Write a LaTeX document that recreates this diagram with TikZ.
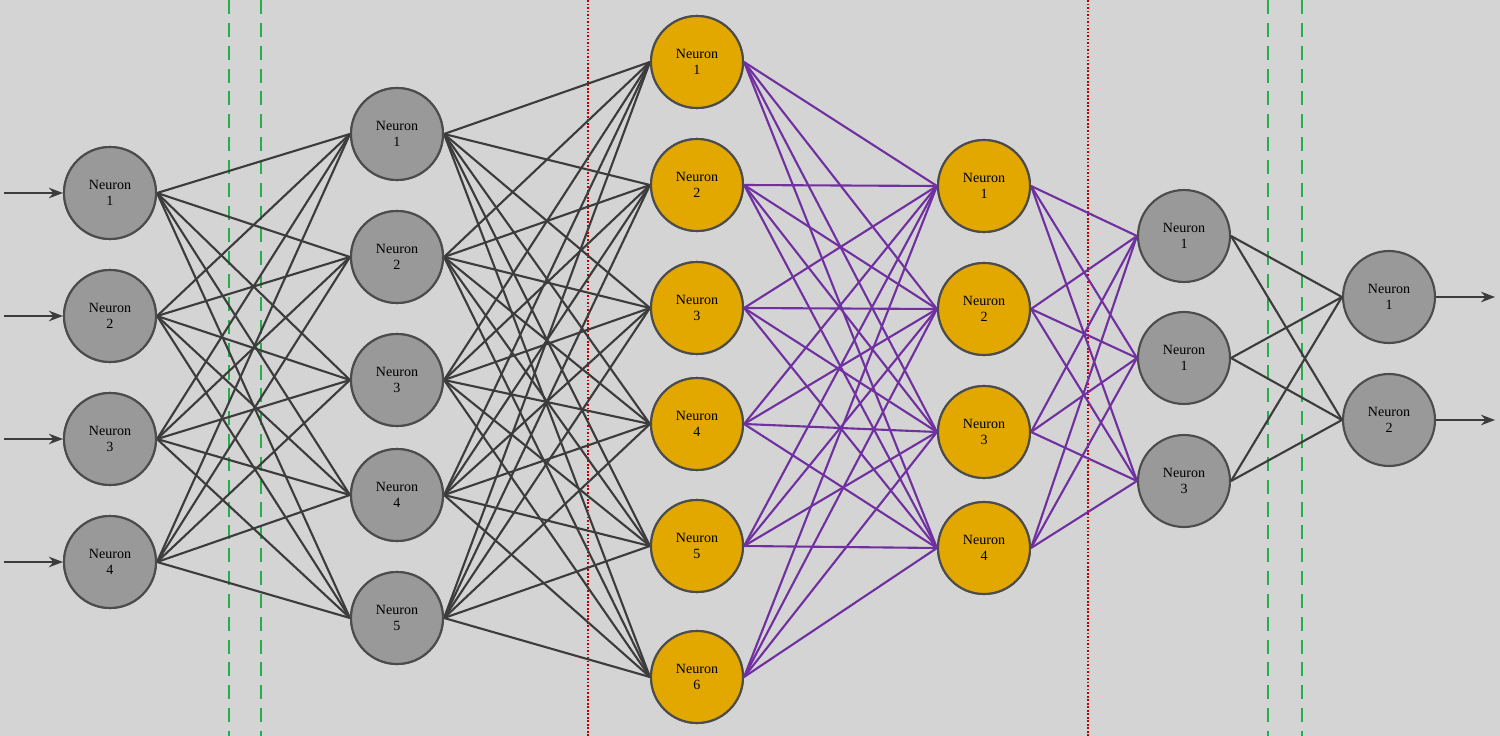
\documentclass[tikz,border=0pt]{standalone}
\usepackage{fontspec}
\setmainfont{Liberation Serif}
\usetikzlibrary{arrows.meta}
\definecolor{bgGray}{HTML}{D4D4D4}
\definecolor{nodeGray}{HTML}{999999}
\definecolor{nodeOrange}{HTML}{E2A800}
\definecolor{edgeDark}{HTML}{3C3C3C}
\definecolor{edgePurple}{HTML}{7030A0}
\definecolor{sepGreen}{HTML}{22B04B}
\definecolor{sepRed}{HTML}{C00000}
\tikzset{
  neuronGray/.style={circle, draw=black!70, line width=1.2pt, fill=nodeGray, minimum size=1.84cm, inner sep=0pt, align=center, font=\fontsize{8}{9}\selectfont},
  neuronOrange/.style={neuronGray, fill=nodeOrange},
  linkDark/.style={draw=edgeDark, line width=1.2pt},
  linkPurple/.style={draw=edgePurple, line width=1.2pt},
  ioArrow/.style={draw=edgeDark, line width=1.2pt, -{Stealth[length=8pt]}},
  greenSep/.style={draw=sepGreen, line width=1.2pt, dash pattern=on 8pt off 5pt},
  redSep/.style={draw=sepRed, line width=1pt, densely dotted}
}
\begin{document}
\begin{tikzpicture}[x=0.02cm, y=-0.02cm]
  \fill[bgGray] (0,0) rectangle (1500,736);
  \useasboundingbox (0,0) rectangle (1500,736);
  %separators
  \foreach \sx in {229,261,1268,1302} \draw[greenSep] (\sx,0) -- (\sx,736);
  \foreach \sx in {588,1088} \draw[redSep] (\sx,0) -- (\sx,736);
  %layers
  \foreach \y [count=\i] in {193,316,439,562}
    \node[neuronGray] (a\i) at (110,\y) {Neuron\\\i};
  \foreach \y [count=\i] in {134,257,380,495,618}
    \node[neuronGray] (b\i) at (397,\y) {Neuron\\\i};
  \foreach \y [count=\i] in {62,185,308,424,546,677}
    \node[neuronOrange] (c\i) at (697,\y) {Neuron\\\i};
  \foreach \y [count=\i] in {186,309,432,548}
    \node[neuronOrange] (d\i) at (984,\y) {Neuron\\\i};
  \node[neuronGray] (e1) at (1184,236) {Neuron\\1};
  \node[neuronGray] (e2) at (1184,358) {Neuron\\1};
  \node[neuronGray] (e3) at (1184,481) {Neuron\\3};
  \node[neuronGray] (f1) at (1389,297) {Neuron\\1};
  \node[neuronGray] (f2) at (1389,420) {Neuron\\2};
  %links
  \foreach \i in {1,...,4} \foreach \j in {1,...,5}
    \draw[linkDark] (a\i.east) -- (b\j.west);
  \foreach \i in {1,...,5} \foreach \j in {1,...,6}
    \draw[linkDark] (b\i.east) -- (c\j.west);
  \foreach \i in {1,...,6} \foreach \j in {1,...,4}
    \draw[linkPurple] (c\i.east) -- (d\j.west);
  \foreach \i in {1,...,4} \foreach \j in {1,...,3}
    \draw[linkPurple] (d\i.east) -- (e\j.west);
  \foreach \i in {1,...,3} \foreach \j in {1,2}
    \draw[linkDark] (e\i.east) -- (f\j.west);
  %inputs and outputs
  \foreach \i in {1,...,4} {
    \coordinate (in\i) at ([xshift=-1.18cm]a\i.west);
    \draw[ioArrow] (in\i) -- (a\i.west);
  }
  \foreach \i in {1,2} {
    \coordinate (out\i) at ([xshift=1.18cm]f\i.east);
    \draw[ioArrow] (f\i.east) -- (out\i);
  }
  %redraw nodes on top
  \foreach \i in {1,...,4} \node[neuronGray] at (a\i) {Neuron\\\i};
  \foreach \i in {1,...,5} \node[neuronGray] at (b\i) {Neuron\\\i};
  \foreach \i in {1,...,6} \node[neuronOrange] at (c\i) {Neuron\\\i};
  \foreach \i in {1,...,4} \node[neuronOrange] at (d\i) {Neuron\\\i};
\end{tikzpicture}
\end{document}
